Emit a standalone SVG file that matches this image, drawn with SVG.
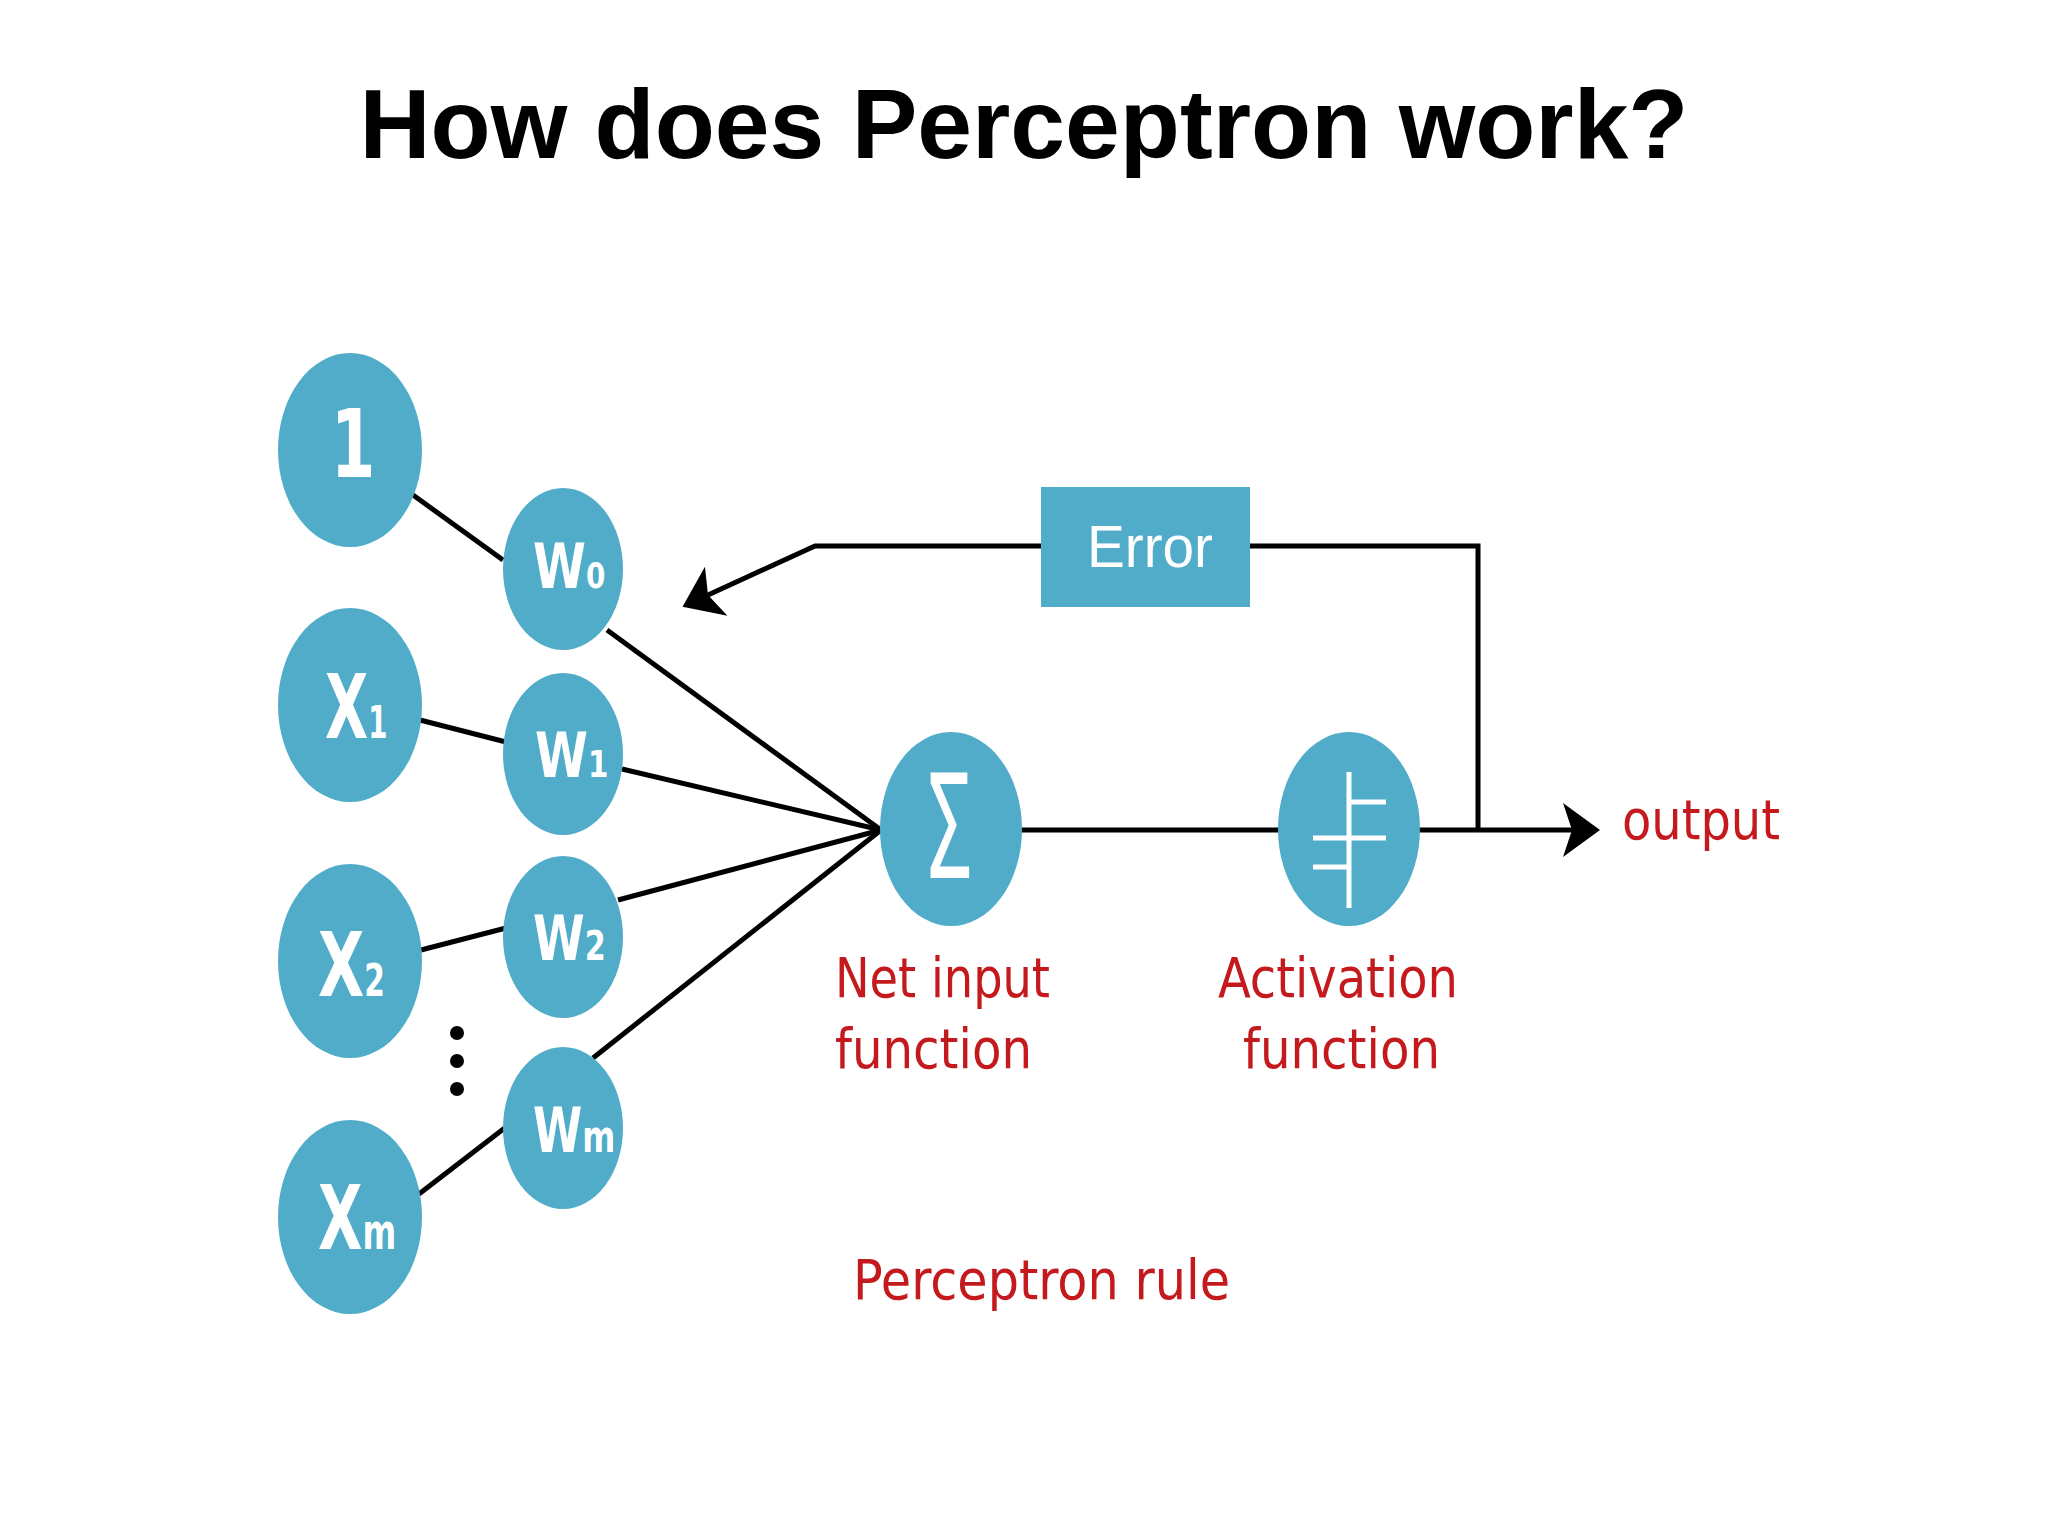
<svg xmlns="http://www.w3.org/2000/svg" width="2048" height="1536" viewBox="0 0 2048 1536">
<defs>
<style>
.node{fill:#50ACC8;}
.lbl{fill:#ffffff;font-family:"DejaVu Sans Condensed","DejaVu Sans",sans-serif;font-weight:bold;font-stretch:condensed;}
.red{fill:#C41A1E;font-family:"DejaVu Sans Condensed","DejaVu Sans",sans-serif;font-stretch:condensed;font-size:56px;}
.ln{fill:none;stroke:#000000;stroke-width:5;stroke-linejoin:miter;}
.sym{stroke:#ffffff;stroke-width:5;fill:none;}
</style>
<marker id="arr" markerUnits="userSpaceOnUse" orient="auto" markerWidth="80" markerHeight="80" refX="0" refY="0" viewBox="-40 -40 80 80" overflow="visible">
<path d="M28,0 L-9,-27 L0,0 L-9,27 Z" fill="#000000"/>
</marker>
</defs>
<rect width="2048" height="1536" fill="#ffffff"/>
<text x="1024" y="158" text-anchor="middle" font-family="'Liberation Sans',Arial,sans-serif" font-weight="bold" font-size="98" textLength="1329" lengthAdjust="spacingAndGlyphs" fill="#000000">How does Perceptron work?</text>

<g id="connectors">
<line class="ln" x1="413" y1="495" x2="503" y2="560"/>
<line class="ln" x1="420" y1="720" x2="506" y2="742"/>
<line class="ln" x1="421" y1="950" x2="506" y2="928"/>
<line class="ln" x1="419" y1="1194" x2="506" y2="1127"/>
<line class="ln" x1="607" y1="630" x2="881" y2="830"/>
<line class="ln" x1="622" y1="769" x2="881" y2="830"/>
<line class="ln" x1="618" y1="900" x2="881" y2="830"/>
<line class="ln" x1="593" y1="1058" x2="881" y2="830"/>
<line class="ln" x1="1020" y1="830" x2="1280" y2="830"/>
<path class="ln" d="M1417,830 L1572,830" marker-end="url(#arr)"/>
<path class="ln" d="M1250,546 L1478,546 L1478,830"/>
<path class="ln" d="M1041,546 L815,546 L708,595" marker-end="url(#arr)"/>
</g>

<g id="dots" fill="#000000">
<circle cx="457" cy="1033" r="7"/>
<circle cx="457" cy="1061" r="7"/>
<circle cx="457" cy="1089" r="7"/>
</g>

<g id="node-1">
<ellipse class="node" cx="350" cy="450" rx="72" ry="97"/>
<text x="353" y="477" text-anchor="middle" font-family="'DejaVu Sans Condensed','DejaVu Sans',sans-serif" font-weight="bold" font-size="95" fill="#ffffff" transform="translate(353,0) scale(0.75,1) translate(-353,0)">1</text>
</g>
<g id="node-x1">
<ellipse class="node" cx="350" cy="705" rx="72" ry="97"/>
<text class="lbl" x="0" y="0" font-size="89" transform="translate(325,738) scale(0.7,1)">X<tspan font-size="44">1</tspan></text>
</g>
<g id="node-x2">
<ellipse class="node" cx="350" cy="961" rx="72" ry="97"/>
<text class="lbl" x="0" y="0" font-size="89" transform="translate(318,996) scale(0.75,1)">X<tspan font-size="44">2</tspan></text>
</g>
<g id="node-xm">
<ellipse class="node" cx="350" cy="1217" rx="72" ry="97"/>
<text class="lbl" x="0" y="0" font-size="89" transform="translate(318,1249) scale(0.72,1)">X<tspan font-size="50">m</tspan></text>
</g>

<g id="node-w0">
<ellipse class="node" cx="563" cy="569" rx="60" ry="81"/>
<text class="lbl" x="0" y="0" font-size="62" transform="translate(533,588) scale(0.86,1)">W<tspan font-size="36">0</tspan></text>
</g>
<g id="node-w1">
<ellipse class="node" cx="563" cy="754" rx="60" ry="81"/>
<text class="lbl" x="0" y="0" font-size="62" transform="translate(535,777) scale(0.86,1)">W<tspan font-size="38">1</tspan></text>
</g>
<g id="node-w2">
<ellipse class="node" cx="563" cy="937" rx="60" ry="81"/>
<text class="lbl" x="0" y="0" font-size="62" transform="translate(533,960) scale(0.84,1)">W<tspan font-size="40">2</tspan></text>
</g>
<g id="node-wm">
<ellipse class="node" cx="563" cy="1128" rx="60" ry="81"/>
<text class="lbl" x="0" y="0" font-size="62" transform="translate(533,1152) scale(0.8,1)">W<tspan font-size="44">m</tspan></text>
</g>

<g id="node-sum">
<ellipse class="node" cx="951" cy="829" rx="71" ry="97"/>
<text x="928" y="878" font-family="Roboto,'DejaVu Sans',sans-serif" font-weight="400" font-size="148" textLength="44" lengthAdjust="spacingAndGlyphs" fill="#ffffff">Σ</text>
</g>
<g id="node-activation">
<ellipse class="node" cx="1349" cy="829" rx="71" ry="97"/>
<path class="sym" d="M1349,772 L1349,908 M1349,802 L1386,802 M1313,838 L1386,838 M1313,867 L1349,867"/>
</g>

<g id="node-error">
<rect class="node" x="1041" y="487" width="209" height="120"/>
<text x="1087" y="567" font-family="'Liberation Sans',Arial,sans-serif" font-size="60" textLength="126" lengthAdjust="spacingAndGlyphs" fill="#ffffff">Error</text>
</g>

<g id="labels">
<text class="red" x="835" y="997" textLength="215" lengthAdjust="spacingAndGlyphs">Net input</text>
<text class="red" x="835" y="1068" textLength="197" lengthAdjust="spacingAndGlyphs">function</text>
<text class="red" x="1218" y="997" textLength="240" lengthAdjust="spacingAndGlyphs">Activation</text>
<text class="red" x="1243" y="1068" textLength="197" lengthAdjust="spacingAndGlyphs">function</text>
<text class="red" x="1622" y="839" textLength="158" lengthAdjust="spacingAndGlyphs">output</text>
<text class="red" x="853" y="1299" textLength="377" lengthAdjust="spacingAndGlyphs">Perceptron rule</text>
</g>
</svg>
